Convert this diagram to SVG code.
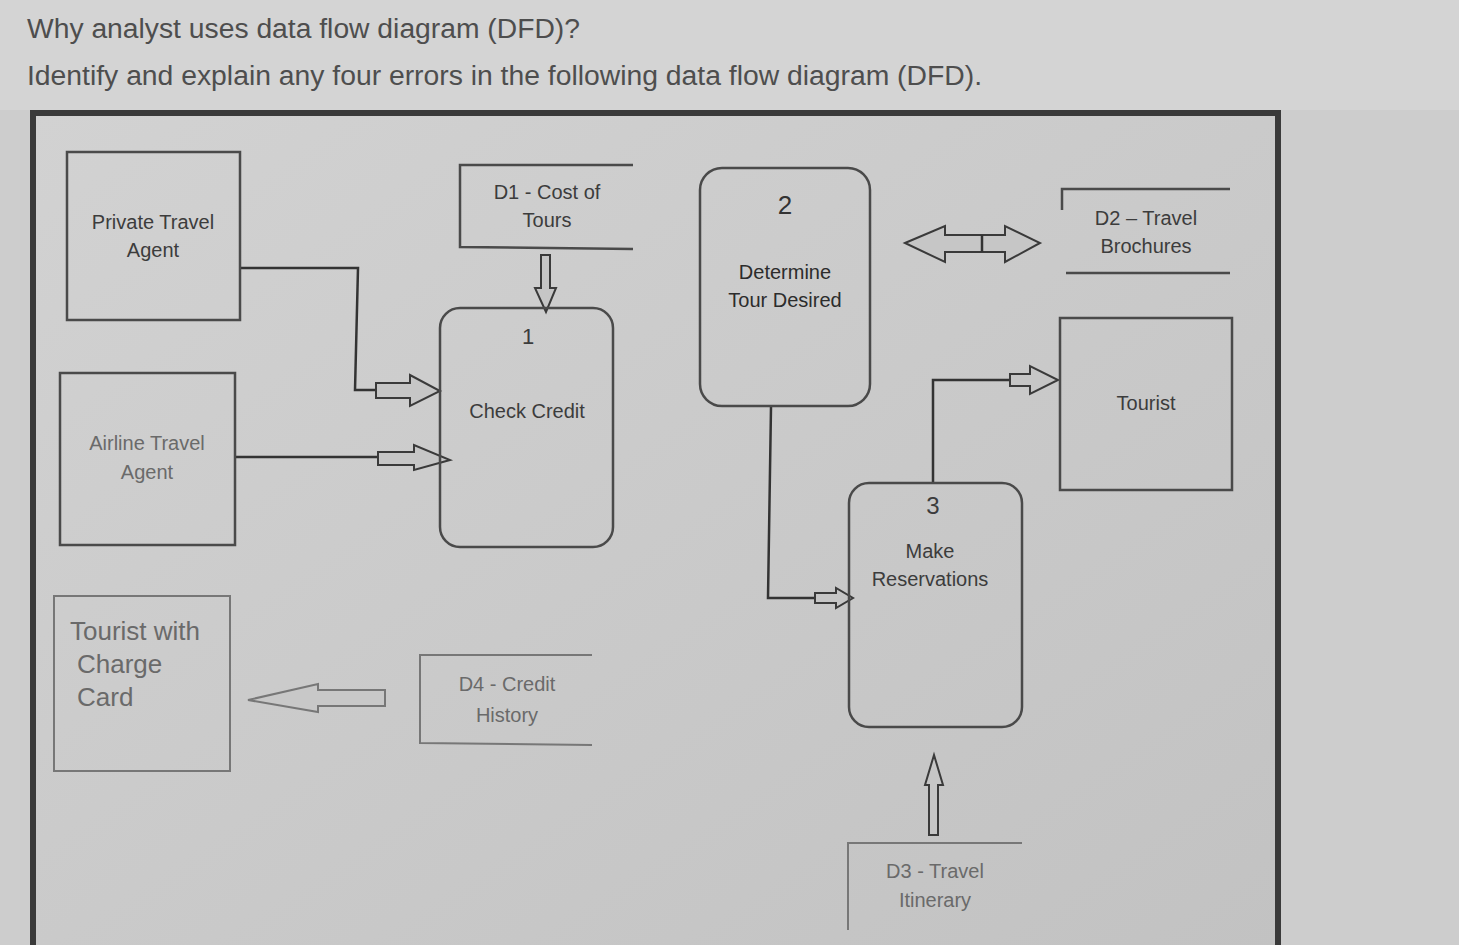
<svg xmlns="http://www.w3.org/2000/svg" width="1459" height="945" viewBox="0 0 1459 945">
<style>
.t{font-family:"Liberation Sans",Arial,sans-serif;font-size:20px;fill:#3c3c3c;text-anchor:middle}
.tg{font-family:"Liberation Sans",Arial,sans-serif;font-size:20px;fill:#6a6a6a;text-anchor:middle}
.box{fill:none;stroke:#4a4a4a;stroke-width:2.5}
.boxg{fill:none;stroke:#777;stroke-width:2}
.ln{fill:none;stroke:#333;stroke-width:2.5}
.arr{fill:#c6c6c6;stroke:#3a3a3a;stroke-width:2}
.arrg{fill:#c8c8c8;stroke:#777;stroke-width:2}
.title{font-family:"Liberation Sans",Arial,sans-serif;font-size:27px;fill:#4e4e4e}
</style>
<defs>
<linearGradient id="bg" x1="0" y1="0" x2="1" y2="1">
<stop offset="0" stop-color="#d2d2d2"/>
<stop offset="1" stop-color="#c2c2c2"/>
</linearGradient>
</defs>
<rect x="0" y="0" width="1459" height="945" fill="#cdcdcd"/>
<rect x="0" y="0" width="1459" height="110" fill="#d4d4d4"/>
<text class="title" x="27" y="38" textLength="553" lengthAdjust="spacingAndGlyphs">Why analyst uses data flow diagram (DFD)?</text>
<text class="title" x="27" y="85" textLength="955" lengthAdjust="spacingAndGlyphs">Identify and explain any four errors in the following data flow diagram (DFD).</text>
<rect x="33" y="113" width="1245" height="840" fill="url(#bg)" stroke="#3a3a3a" stroke-width="6"/>

<g id="connectors">
<polyline class="ln" points="240,268 358,268 355,390 378,390"/>
<polygon class="arr" points="376,383 410,383 410,375 440,391 410,406 410,398 376,398"/>
<line class="ln" x1="236" y1="457" x2="380" y2="457"/>
<polygon class="arr" points="378,452 414,452 414,445 450,460 414,470 414,465 378,465"/>
<polygon class="arr" points="541,255 550,255 550,288 556,288 546,312 535,288 541,288"/>
<polygon class="arr" points="905,243 945,226 945,235 1005,235 1005,226 1040,243 1005,262 1005,252 945,252 945,262"/>
<line class="ln" x1="982" y1="235" x2="982" y2="252"/>
<polyline class="ln" points="771,407 768,598 816,598"/>
<polygon class="arr" points="815,593 836,593 836,588 853,598 836,608 836,603 815,603"/>
<polyline class="ln" points="933,483 933,380 1012,380"/>
<polygon class="arr" points="1010,374 1030,374 1030,366 1058,380 1030,394 1030,386 1010,386"/>
<polygon class="arr" points="929,835 938,835 938,785 943,785 934,755 925,785 929,785"/>
<polygon class="arrg" points="385,690 318,690 318,684 248,700 318,712 318,706 385,706"/>
</g>

<g id="private-travel-agent">
<rect class="box" x="67" y="152" width="173" height="168"/>
<text class="t" x="153" y="229">Private Travel</text>
<text class="t" x="153" y="257">Agent</text>
</g>
<g id="airline-travel-agent">
<rect class="box" x="60" y="373" width="175" height="172"/>
<text class="tg" x="147" y="450">Airline Travel</text>
<text class="tg" x="147" y="479">Agent</text>
</g>
<g id="tourist-charge-card">
<rect class="boxg" x="54" y="596" width="176" height="175"/>
<text class="tg" x="70" y="640" style="text-anchor:start;font-size:26px">Tourist with</text>
<text class="tg" x="77" y="673" style="text-anchor:start;font-size:26px">Charge</text>
<text class="tg" x="77" y="706" style="text-anchor:start;font-size:26px">Card</text>
</g>
<g id="d1">
<polyline class="box" points="633,165 460,165 460,247 633,249"/>
<text class="t" x="547" y="199">D1 - Cost of</text>
<text class="t" x="547" y="227">Tours</text>
</g>
<g id="p1">
<rect class="box" x="440" y="308" width="173" height="239" rx="20"/>
<text class="t" x="528" y="344" style="font-size:22px">1</text>
<text class="t" x="527" y="418">Check Credit</text>
</g>
<g id="p2">
<rect class="box" x="700" y="168" width="170" height="238" rx="22"/>
<text class="t" x="785" y="214" style="font-size:26px;fill:#333">2</text>
<text class="t" x="785" y="279" style="fill:#2c2c2c">Determine</text>
<text class="t" x="785" y="307" style="fill:#2c2c2c">Tour Desired</text>
</g>
<g id="d2">
<polyline class="box" points="1062,210 1062,189 1230,189"/>
<line class="box" x1="1066" y1="273" x2="1230" y2="273"/>
<text class="t" x="1146" y="225">D2 – Travel</text>
<text class="t" x="1146" y="253">Brochures</text>
</g>
<g id="tourist">
<rect class="box" x="1060" y="318" width="172" height="172"/>
<text class="t" x="1146" y="410">Tourist</text>
</g>
<g id="p3">
<rect class="box" x="849" y="483" width="173" height="244" rx="20"/>
<text class="t" x="933" y="514" style="font-size:24px">3</text>
<text class="t" x="930" y="558">Make</text>
<text class="t" x="930" y="586">Reservations</text>
</g>
<g id="d3">
<polyline class="boxg" points="848,930 848,843 1022,843"/>
<text class="tg" x="935" y="878">D3 - Travel</text>
<text class="tg" x="935" y="907">Itinerary</text>
</g>
<g id="d4">
<polyline class="boxg" points="592,655 420,655 420,743 592,745"/>
<text class="tg" x="507" y="691">D4 - Credit</text>
<text class="tg" x="507" y="722">History</text>
</g>
</svg>
